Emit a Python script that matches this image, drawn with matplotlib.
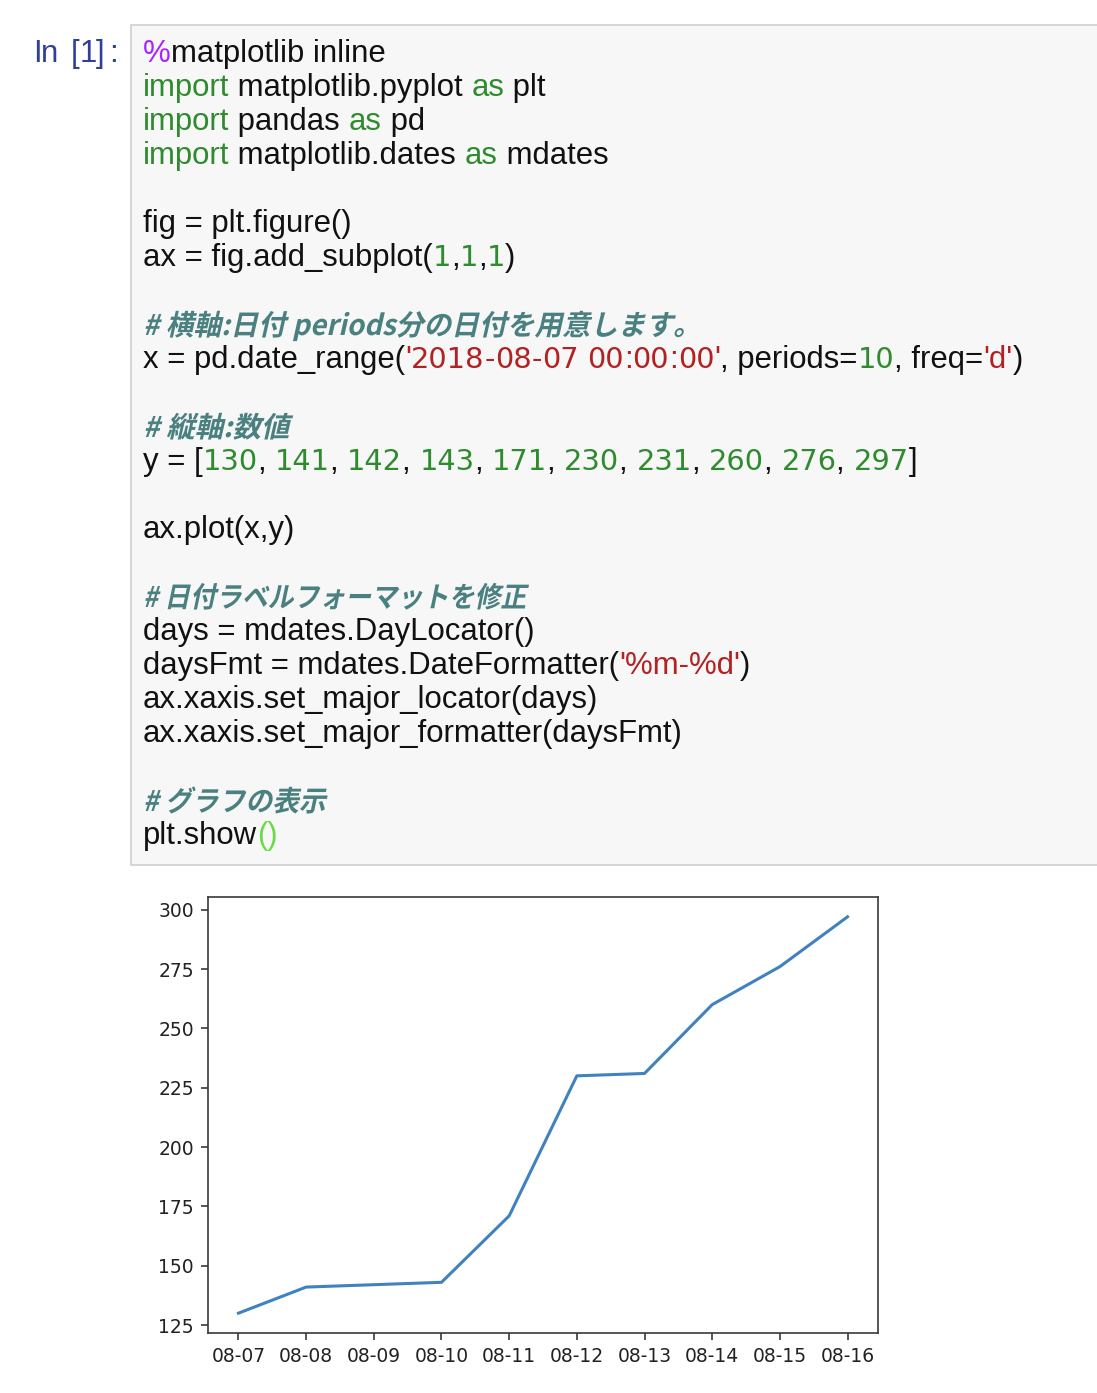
import re
import matplotlib
matplotlib.use("Agg")
import matplotlib.pyplot as plt
import matplotlib.dates as mdates
from matplotlib.patches import Rectangle
from matplotlib.patheffects import AbstractPathEffect
from matplotlib.transforms import Affine2D
from matplotlib.font_manager import FontProperties
import pandas as pd

# data, same as in the notebook cell
start = '2018-08-07 00:00:00'
periods = 10
y = [130, 141, 142, 143, 171, 230, 231, 260, 276, 297]

W, H = 1097, 1393

KW = '#2e8b2e'    # import / as
NUM = '#2e8b2e'
STR = '#b22222'
MAGIC = '#aa22ff'
CMT = '#4a8080'
TXT = '#111111'
BRK = '#66dd44'

code = [
    [('%', MAGIC), ('matplotlib inline', TXT)],
    [('import', KW), (' matplotlib.pyplot ', TXT), ('as', KW), (' plt', TXT)],
    [('import', KW), (' pandas ', TXT), ('as', KW), (' pd', TXT)],
    [('import', KW), (' matplotlib.dates ', TXT), ('as', KW), (' mdates', TXT)],
    [],
    [('fig = plt.figure()', TXT)],
    [('ax = fig.add_subplot(', TXT), ('1', NUM), (',', TXT), ('1', NUM), (',', TXT), ('1', NUM), (')', TXT)],
    [],
    '# 横軸:日付 periods分の日付を用意します。',
    [('x = pd.date_range(', TXT), ("'2018-08-07 00:00:00'", STR), (', periods=', TXT), ('10', NUM),
     (', freq=', TXT), ("'d'", STR), (')', TXT)],
    [],
    '# 縦軸:数値',
    [('y = [', TXT), ('130', NUM), (', ', TXT), ('141', NUM), (', ', TXT), ('142', NUM), (', ', TXT),
     ('143', NUM), (', ', TXT), ('171', NUM), (', ', TXT), ('230', NUM), (', ', TXT), ('231', NUM),
     (', ', TXT), ('260', NUM), (', ', TXT), ('276', NUM), (', ', TXT), ('297', NUM), (']', TXT)],
    [],
    [('ax.plot(x,y)', TXT)],
    [],
    '# 日付ラベルフォーマットを修正',
    [('days = mdates.DayLocator()', TXT)],
    [('daysFmt = mdates.DateFormatter(', TXT), ("'%m-%d'", STR), (')', TXT)],
    [('ax.xaxis.set_major_locator(days)', TXT)],
    [('ax.xaxis.set_major_formatter(daysFmt)', TXT)],
    [],
    '# グラフの表示',
    [('plt.show', TXT), ('()', BRK)],
]


class Slant(AbstractPathEffect):
    # fake italic (and a horizontal squeeze) for the CJK comment font
    def __init__(self, deg=13, sx=1.0):
        super().__init__()
        self.deg = deg
        self.sx = sx

    def draw_path(self, renderer, gc, tpath, affine, rgbFace=None):
        pre = Affine2D().skew_deg(self.deg, 0).scale(self.sx, 1)
        renderer.draw_path(gc, tpath, pre + affine, rgbFace)


def fx(px):
    return px / W


def fy(py):
    return 1 - py / H


fig = plt.figure(figsize=(W / 100, H / 100), dpi=100)
fig.patch.set_facecolor('white')

# code cell box
fig.add_artist(Rectangle((fx(130.5), fy(865)), fx(W - 128), 840 / H, transform=fig.transFigure,
                         facecolor='#f7f7f7', edgecolor='#cfcfcf', linewidth=1.2))

code_font = FontProperties(family='Liberation Sans', size=22.4)
digit_font = FontProperties(family='DejaVu Sans', size=20.8)
cmt_font = FontProperties(family=['Noto Sans CJK JP', 'DejaVu Sans'], size=20.5, weight='bold')

renderer = fig.canvas.get_renderer()


def width(s, prop):
    # measure with a bar at the end so trailing spaces count
    w1 = renderer.get_text_width_height_descent(s + '|', prop, ismath=False)[0]
    w2 = renderer.get_text_width_height_descent('|', prop, ismath=False)[0]
    return w1 - w2


# prompt, monospaced
for k, ch in enumerate('In [1]:'):
    fig.text(fx(37 + 12.7 * k), fy(62), ch, color='#303f9f', fontproperties=code_font,
             ha='center', va='baseline')

SMALL = 'ァィゥェォッャュョぁぃぅぇぉっゃゅょ'

x0 = 143
for i, line in enumerate(code):
    base = 62 + 34 * i
    if isinstance(line, str):
        # comments: kana are set a bit tighter in the original, squeeze the line to match
        want = 0
        for ch in line:
            w = width(ch, cmt_font)
            if ch in SMALL:
                w *= 0.72
            elif '\u3040' <= ch <= '\u30ff':
                w *= 0.9
            want += w
        sx = want / width(line, cmt_font)
        fig.text(fx(x0), fy(base + 1), line, color=CMT, fontproperties=cmt_font,
                 va='baseline', path_effects=[Slant(sx=sx)])
        continue
    xc = x0
    for tok, col in line:
        for run in re.findall(r'\d+|\D+', tok):
            prop = digit_font if run.isdigit() else code_font
            fig.text(fx(xc), fy(base), run, color=col, fontproperties=prop, va='baseline')
            xc += width(run, prop)

# the chart
x = pd.date_range(start, periods=periods, freq='d')
ax = fig.add_axes([fx(208), fy(1333), fx(878) - fx(208), (1333 - 897) / H])
ax.plot(x, y, color='#3f82bf', linewidth=2.2)

days = mdates.DayLocator()
daysFmt = mdates.DateFormatter('%m-%d')
ax.xaxis.set_major_locator(days)
ax.xaxis.set_major_formatter(daysFmt)

for s in ax.spines.values():
    s.set_linewidth(1.2)
    s.set_color('#3a3a3a')
ax.tick_params(length=5, width=1.2, pad=5, labelsize=13.5, colors='#3a3a3a', labelcolor='#222222')

fig.savefig('out.png', dpi=100)
